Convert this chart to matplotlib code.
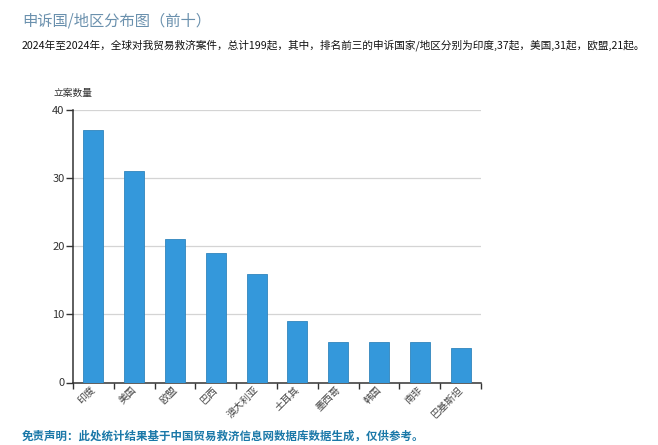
import matplotlib
matplotlib.use("Agg")
import matplotlib.pyplot as plt
from matplotlib.transforms import ScaledTranslation
import numpy as np

regions = ["印度", "美国", "欧盟", "巴西", "澳大利亚", "土耳其", "墨西哥", "韩国", "南非", "巴基斯坦"]
cases = [37, 31, 21, 19, 16, 9, 6, 6, 6, 5]
y_ticks = [0, 10, 20, 30, 40]

TITLE = "申诉国/地区分布图（前十）"
SUMMARY = "2024年至2024年，全球对我贸易救济案件，总计199起，其中，排名前三的申诉国家/地区分别为印度,37起，美国,31起，欧盟,21起。"
NOTE = "免责声明：此处统计结果基于中国贸易救济信息网数据库数据生成，仅供参考。"

plt.rcParams["font.family"] = ["Noto Sans CJK SC", "DejaVu Sans"]

W, H = 658, 445
fig = plt.figure(figsize=(W / 100, H / 100), dpi=100)
ax = fig.add_axes([73 / W, 1 - 382.5 / H, (481 - 73) / W, (382.5 - 110) / H])

x = np.arange(len(regions))
ax.bar(x, cases, width=0.49, color="#3498db", edgecolor="#3085bd", linewidth=0.6, zorder=3)
ax.set_xlim(-0.5, len(regions) - 0.5)
ax.set_ylim(0, 40)

ax.set_yticks(y_ticks)
ax.tick_params(axis="y", length=5, width=1, color="#333333", labelsize=8, labelcolor="#333333", pad=1)
ax.grid(axis="y", color="#d4d4d4", linewidth=0.9, zorder=0)
ax.set_axisbelow(True)

# ticks sit on the category edges, labels in the middle
ax.set_xticks(np.arange(len(regions) + 1) - 0.5)
ax.set_xticklabels([])
ax.tick_params(axis="x", length=4, width=1, color="#333333")
ax.set_xticks(x, minor=True)
ax.set_xticklabels(regions, minor=True, rotation=45, ha="right", rotation_mode="anchor", fontsize=7.2, color="#444444")
ax.tick_params(axis="x", which="minor", length=0, pad=1.5)
# nudge the rotated labels to the right place under the bars
shift = ScaledTranslation(-3 / 100, 0, fig.dpi_scale_trans)
for lab in ax.get_xticklabels(minor=True):
    lab.set_transform(lab.get_transform() + shift)

for side in ["top", "right"]:
    ax.spines[side].set_visible(False)
for side in ["left", "bottom"]:
    ax.spines[side].set_color("#333333")
    ax.spines[side].set_linewidth(1.1)

fig.text(22 / W, 1 - 21 / H, TITLE, fontsize=11, color="#6a90ad", va="center")
fig.text(22 / W, 1 - 45 / H, SUMMARY, fontsize=7.66, color="#111111", va="center")
fig.text(54 / W, 1 - 93 / H, "立案数量", fontsize=7, color="#333333", va="center")
fig.text(22 / W, 1 - 436 / H, NOTE, fontsize=8.25, color="#1a78a8", va="center", fontweight="bold")

fig.savefig("out.png", dpi=100)
